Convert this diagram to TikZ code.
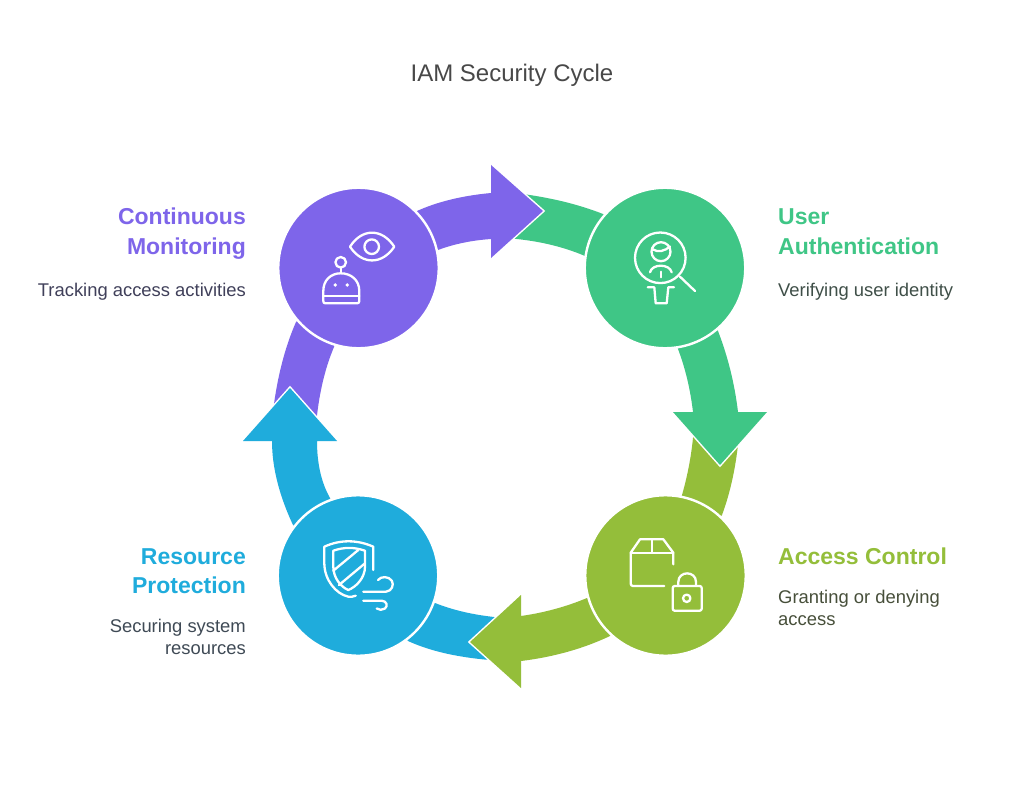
\documentclass[tikz,border=0pt]{standalone}
\usepackage{fontspec}
\usetikzlibrary{calc}
\setmainfont{Liberation Sans}
\definecolor{cpurple}{HTML}{7E65EA}
\definecolor{cgreen}{HTML}{3FC686}
\definecolor{clime}{HTML}{94BE3A}
\definecolor{cblue}{HTML}{1FACDC}
\definecolor{ctitle}{HTML}{484848}
\definecolor{dpurple}{HTML}{40405A}
\definecolor{dgreen}{HTML}{3F4F48}
\definecolor{dlime}{HTML}{474F3A}
\definecolor{dblue}{HTML}{3F4A55}
\newcommand{\qcurve}[3]{.. controls ($(#1)!0.6667!(#2)$) and ($(#3)!0.6667!(#2)$) .. (#3)}
\tikzset{
  hub/.style={circle,draw=white,line width=2.4pt,minimum size=160.5pt,inner sep=0pt,outer sep=0pt},
  headshape/.style={fill=#1,preaction={draw=white,line width=3pt,line join=miter,miter limit=20}},
  icon/.style={draw=white,line width=2.3pt,line cap=round,line join=round,fill=none},
  heading/.style={font=\bfseries\fontsize{23}{29}\selectfont,inner sep=0pt},
  desc/.style={font=\fontsize{18.4}{22}\selectfont,inner sep=0pt},
}
\begin{document}
\begin{tikzpicture}[x=1pt,y=-1pt]
\useasboundingbox (0,0) rectangle (1024,794);
\fill[white] (0,0) rectangle (1024,794);
\coordinate (cp) at (358.5,268);
\coordinate (cg) at (665,268);
\coordinate (cl) at (665.5,575.5);
\coordinate (cb) at (358,575.5);
% tails
\fill[cgreen] (cg) -- (603,214) \qcurve{603,214}{565,199}{515,193} -- (505,238) \qcurve{505,238}{550,241}{585,256} -- cycle;
\fill[clime] (cl) -- (722,515) \qcurve{722,515}{735,480}{739,435} -- (694,425) \qcurve{694,425}{692,460}{682,495} -- cycle;
\fill[cblue] (cb) -- (435,603) \qcurve{435,603}{465,615}{505,618} -- (505,661) \qcurve{505,661}{445,658}{408,641} -- cycle;
\fill[cpurple] (cp) -- (296,322) \qcurve{296,322}{278,363}{272,420} -- (316,425) \qcurve{316,425}{320,380}{334,347} -- cycle;
% heads
\path[headshape=cpurple] (cp) -- (417,211) \qcurve{417,211}{448,197}{491,193} -- (491,165) -- (543,211) -- (491,258) -- (491,239) \qcurve{491,239}{462,241}{438,250} -- cycle;
\path[headshape=cgreen] (cg) -- (718,331) \qcurve{718,331}{733,370}{738,412} -- (767,412) -- (720,465) -- (673,412) -- (693,412) \qcurve{693,412}{689,378}{678,349} -- cycle;
\path[headshape=clime] (cl) -- (587,598) \qcurve{587,598}{556,611}{521,616} -- (521,595) -- (470,642) -- (521,688) -- (521,661) \qcurve{521,661}{570,655}{610,636} -- cycle;
\path[headshape=cblue] (cb) -- (293,525) \qcurve{293,525}{272,480}{272,441} -- (243,441) -- (290,388) -- (337,441) -- (317,441) \qcurve{317,441}{317,475}{330,498} -- cycle;
% hubs
\node[hub,fill=cpurple] (monitor) at (cp) {};
\node[hub,fill=cgreen] (auth) at (cg) {};
\node[hub,fill=clime] (access) at (cl) {};
\node[hub,fill=cblue] (protect) at (cb) {};
% eye + robot
\draw[icon] (350,246.7) .. controls (362,228) and (382,228) .. (394.3,246.7) .. controls (382,265) and (362,265) .. (350,246.7) -- cycle;
\draw[icon] (371.7,246.7) circle (7.3);
\draw[icon] (340.7,262.3) circle (5.3);
\draw[icon] (340.7,267.6) -- (340.7,273.3);
\draw[icon] (323.3,295.7) -- (323.3,291) .. controls (323.3,280) and (331,273.3) .. (340.7,273.3) .. controls (351,273.3) and (359.3,280) .. (359.3,291) -- (359.3,301) .. controls (359.3,302.7) and (358.5,303.3) .. (357,303.3) -- (325.5,303.3) .. controls (324,303.3) and (323.3,302.7) .. (323.3,301) -- cycle;
\draw[icon] (323.3,295.7) -- (359.3,295.7);
\fill[white] (335.3,285) circle (1.9) (347.3,285) circle (1.9);
% person + magnifier
\draw[icon] (660.3,257.8) circle (25.3);
\draw[icon] (661,251.7) circle (9.5);
\draw[icon] (652,249) .. controls (658,253) and (665,251) .. (670,246.5);
\draw[icon] (650,272.3) .. controls (652,263.5) and (669.5,263.5) .. (671.7,272.3);
\draw[icon] (660.7,271.7) -- (660.7,277.3);
\draw[icon] (647.7,287.3) -- (654.3,287.3) -- (655.7,303.3) -- (666.7,303.3) -- (668.3,287.3) -- (674,287.3);
\draw[icon] (680,276.7) -- (695,291);
% box + lock
\draw[icon] (664.3,586) -- (633,586) .. controls (631.5,586) and (630.7,585) .. (630.7,583.5) -- (630.7,552.7) -- (640,539.3) -- (663.3,539.3) -- (673.3,552.7) -- (673.3,564.3);
\draw[icon] (630.7,552.7) -- (673.3,552.7);
\draw[icon] (651.7,539.3) -- (651.7,552.7);
\draw[icon,rounded corners=2pt] (672.7,586) rectangle (701.7,610.7);
\draw[icon] (678.3,586) -- (678.3,582) .. controls (678.3,570.5) and (696,570.5) .. (696,582) -- (696,586);
\draw[icon] (686.7,598.3) circle (3.7);
% shield + wind
\draw[icon] (373.3,570) -- (373.3,546.7) .. controls (357,539.5) and (340,539.5) .. (324.3,546.7) -- (324.3,563) .. controls (324.3,580) and (336,594) .. (348.3,596.7) .. controls (351,597.2) and (353,596.5) .. (355.7,595.7);
\draw[icon] (333.3,550.7) .. controls (344,547) and (354,547) .. (365,550.7) -- (365,566.7) .. controls (365,578) and (356,587) .. (348.3,590) .. controls (341,587) and (333.3,578) .. (333.3,566.7) -- cycle;
\draw[icon] (333.3,570.7) -- (358.3,550);
\draw[icon] (339,585) -- (365,563.3);
\draw[icon] (363.3,591.7) -- (386,591.7) .. controls (392,591) and (394,585) .. (392,581) .. controls (389,576) and (381,576) .. (378,580);
\draw[icon] (363.3,600.7) -- (381.7,600.7) .. controls (387,601) and (388,606) .. (385,608.5) .. controls (382.5,610.5) and (379,610) .. (376.7,608.5);
% texts
\node[font=\fontsize{24}{28}\selectfont,text=ctitle,inner sep=0pt,anchor=base] (title) at (512,81.5) {IAM Security Cycle};
\node[heading,text=cpurple,anchor=base east] (h1a) at (246,225) {Continuous};
\node[heading,text=cpurple,anchor=base east] (h1b) at (246,254) {Monitoring};
\node[desc,text=dpurple,anchor=base east] (d1) at (246,296) {Tracking access activities};
\node[heading,text=cgreen,anchor=base west] (h2a) at (778,225) {User};
\node[heading,text=cgreen,anchor=base west] (h2b) at (778,254) {Authentication};
\node[desc,text=dgreen,anchor=base west] (d2) at (778,296) {Verifying user identity};
\node[heading,text=clime,anchor=base west] (h3) at (778,564) {Access Control};
\node[desc,text=dlime,anchor=base west] (d3a) at (778,603) {Granting or denying};
\node[desc,text=dlime,anchor=base west] (d3b) at (778,625) {access};
\node[heading,text=cblue,anchor=base east] (h4a) at (246,564) {Resource};
\node[heading,text=cblue,anchor=base east] (h4b) at (246,593) {Protection};
\node[desc,text=dblue,anchor=base east] (d4a) at (246,632) {Securing system};
\node[desc,text=dblue,anchor=base east] (d4b) at (246,654) {resources};
\end{tikzpicture}
\end{document}
